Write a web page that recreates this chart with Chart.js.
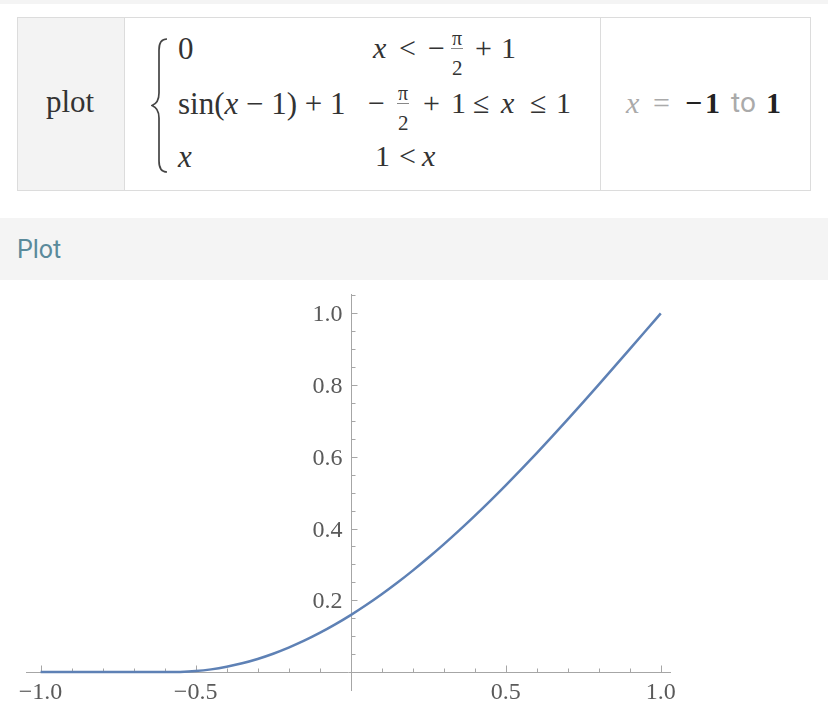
<!DOCTYPE html>
<html>
<head>
<meta charset="utf-8">
<title>plot</title>
<script src="https://cdn.jsdelivr.net/npm/chart.js@4.4.1/dist/chart.umd.min.js"></script>
<style>
  body {
    margin: 0;
    width: 828px;
    height: 722px;
    position: relative;
    overflow: hidden;
    background: #fff;
    font-family: "Liberation Serif", serif;
    color: #333;
  }
  .abs { position: absolute; white-space: nowrap; line-height: 1; }
  .topband { left: 0; top: 0; width: 828px; height: 4px; background: #f4f4f4; }
  .box { left: 17px; top: 17px; width: 792px; height: 172px; border: 1px solid #dcdcdc; }
  .cell1 { left: 18px; top: 18px; width: 106px; height: 172px; background: #f3f3f3; border-right: 1px solid #dcdcdc; }
  .div2 { left: 600px; top: 18px; width: 1px; height: 172px; background: #dcdcdc; }
  .f { font-size: 31px; }
  .t { position: absolute; line-height: 1; font-size: 30px; white-space: nowrap; }
  .pi { font-size: 20px; border-bottom: 1px solid #888; padding: 0 1px; }
  .two { font-size: 21px; }
  i { font-style: italic; }
  .grey { color: #aaa; }
  .bold { font-weight: bold; color: #222; }
  .to { font-family: Roboto, sans-serif; font-size: 28px; color: #aaa; }
  .band { left: 0; top: 218px; width: 828px; height: 62px; background: #f4f4f4; }
  .podtitle { left: 17px; top: 237px; font-family: Roboto, sans-serif; font-size: 25px; color: #5a8a9b; }
  canvas { position: absolute; left: 0; top: 280px; }
</style>
</head>
<body>

<div class="abs topband"></div>
<div class="abs box"></div>
<div class="abs cell1"></div>
<div class="abs div2"></div>

<div class="abs f" style="left:46px;top:86px">plot</div>

<svg class="abs" style="left:151px;top:38px" width="18" height="135" viewBox="0 0 18 135">
  <path d="M16,1 C11,1 8,4 8,12 L8,55 C8,62 5,66 1,67.5 C5,69 8,73 8,80 L8,123 C8,131 11,134 16,134"
        fill="none" stroke="#444" stroke-width="1.7"/>
</svg>

<div class="abs f" style="left:178px;top:33px">0</div>
<div class="abs f" style="left:178px;top:88px">sin(<i>x</i> − 1) + 1</div>
<div class="abs f" style="left:178px;top:141px"><i>x</i></div>

<!-- условия: x < −π/2 + 1 -->
<span class="t" style="left:373px;top:33px"><i>x</i></span>
<span class="t" style="left:399px;top:33px">&lt;</span>
<span class="t" style="left:428px;top:33px">−</span>
<span class="t pi" style="left:451px;top:28px">π</span>
<span class="t two" style="left:452px;top:58px">2</span>
<span class="t" style="left:475px;top:33px">+</span>
<span class="t" style="left:501px;top:33px">1</span>

<!-- −π/2 + 1 ≤ x ≤ 1 -->
<span class="t" style="left:368px;top:88px">−</span>
<span class="t pi" style="left:397px;top:83px">π</span>
<span class="t two" style="left:398px;top:113px">2</span>
<span class="t" style="left:423px;top:88px">+</span>
<span class="t" style="left:451px;top:88px">1</span>
<span class="t" style="left:473px;top:88px">≤</span>
<span class="t" style="left:501px;top:88px"><i>x</i></span>
<span class="t" style="left:530px;top:88px">≤</span>
<span class="t" style="left:556px;top:88px">1</span>

<!-- 1 < x -->
<span class="t" style="left:375px;top:141px">1</span>
<span class="t" style="left:399px;top:141px">&lt;</span>
<span class="t" style="left:422px;top:141px"><i>x</i></span>

<!-- x = −1 to 1 -->
<span class="t grey" style="left:626px;top:88px"><i>x</i></span>
<span class="t grey" style="left:653px;top:88px">=</span>
<span class="t bold" style="left:685px;top:88px">−</span>
<span class="t bold" style="left:705px;top:88px">1</span>
<span class="t to" style="left:731px;top:89px">to</span>
<span class="t bold" style="left:766px;top:88px">1</span>

<div class="abs band"></div>
<div class="abs podtitle">Plot</div>

<canvas id="plot" width="828" height="442"></canvas>

<script>
"use strict"

// значения кривой
const xValues = [-1, -0.9, -0.8, -0.7, -0.6, -0.571, -0.55, -0.5, -0.45, -0.4, -0.35, -0.3, -0.25,
	-0.2, -0.15, -0.1, -0.05, 0, 0.05, 0.1, 0.15, 0.2, 0.25, 0.3, 0.35, 0.4, 0.45, 0.5,
	0.55, 0.6, 0.65, 0.7, 0.75, 0.8, 0.85, 0.9, 0.95, 1];
const yValues = [0, 0, 0, 0, 0, 0, 0.0002, 0.0025, 0.0073, 0.0146, 0.0243, 0.0364, 0.051,
	0.068, 0.0872, 0.1088, 0.1326, 0.1585, 0.1866, 0.2167, 0.2487, 0.2826, 0.3184, 0.3558, 0.3948, 0.4354, 0.4773, 0.5206,
	0.565, 0.6106, 0.6571, 0.7045, 0.7526, 0.8013, 0.8506, 0.9002, 0.95, 1];

// подписи осей
const xTickValues = [-1, -0.5, 0.5, 1];
const yTickValues = [0.2, 0.4, 0.6, 0.8, 1];

const axisColor = '#a6a6a6';
const labelColor = '#5a5a5a';

function tickText(v) {
	return v.toFixed(1).replace('-', '\u2212');
}

// оси пересекаются в нуле, как в Mathematica
const crossAxes = {
	id: 'crossAxes',
	beforeDatasetsDraw(chart) {
		const { ctx } = chart;
		const x = chart.scales.x;
		const y = chart.scales.y;
		const x0 = Math.round(x.getPixelForValue(0)) + 0.5;
		const y0 = Math.round(y.getPixelForValue(0)) + 0.5;

		ctx.save();
		ctx.strokeStyle = axisColor;
		ctx.lineWidth = 1;
		ctx.beginPath();
		ctx.moveTo(x.left, y0);
		ctx.lineTo(x.right, y0);
		ctx.moveTo(x0, y.top);
		ctx.lineTo(x0, y.bottom);

		// засечки по x: крупные через 0.5, мелкие через 0.1
		for (let i = -10; i <= 10; i++) {
			if (i === 0) continue;
			const px = Math.round(x.getPixelForValue(i / 10)) + 0.5;
			const len = i % 5 === 0 ? 7 : 4;
			ctx.moveTo(px, y0);
			ctx.lineTo(px, y0 - len);
		}
		// засечки по y: крупные через 0.2, мелкие через 0.05
		for (let i = 1; i <= 21; i++) {
			const py = Math.round(y.getPixelForValue(i / 20)) + 0.5;
			const len = i % 4 === 0 ? 6 : 4;
			ctx.moveTo(x0, py);
			ctx.lineTo(x0 + len, py);
		}
		ctx.stroke();

		ctx.fillStyle = labelColor;
		ctx.font = '24px "Liberation Serif"';
		ctx.textAlign = 'center';
		ctx.textBaseline = 'alphabetic';
		xTickValues.forEach(v => {
			ctx.fillText(tickText(v), x.getPixelForValue(v), y0 + 26);
		});
		ctx.textAlign = 'right';
		yTickValues.forEach(v => {
			ctx.fillText(tickText(v), x0 - 9, y.getPixelForValue(v) + 8);
		});
		ctx.restore();
	}
};

const plotChart = new Chart(
	document.getElementById('plot'),
	{
		type: 'line',
		data: {
			datasets: [
				{
					data: xValues.map((v, i) => ({ x: v, y: yValues[i] })),
					borderColor: '#5e81b5',
					borderWidth: 2.5,
					pointRadius: 0,
					cubicInterpolationMode: 'monotone',
					fill: false
				}
			]
		},
		options: {
			responsive: false,
			animation: false,
			layout: { padding: { left: 26, right: 157, top: 14, bottom: 31 } },
			scales: {
				x: { type: 'linear', min: -1.047, max: 1.033, display: false },
				y: { type: 'linear', min: -0.053, max: 1.054, display: false }
			},
			plugins: {
				legend: { display: false },
				tooltip: { enabled: false }
			}
		},
		plugins: [crossAxes]
	}
);
</script>
</body>
</html>
